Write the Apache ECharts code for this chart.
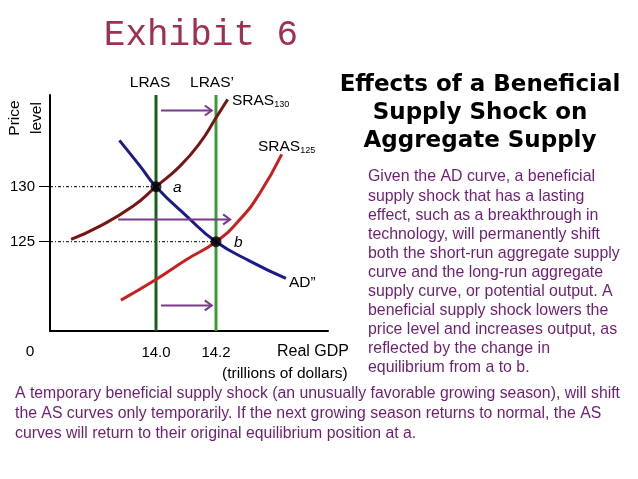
<!DOCTYPE html>
<html><head><meta charset="utf-8">
<script src="https://cdn.jsdelivr.net/npm/echarts@6/dist/echarts.min.js"></script>
<style>html,body{margin:0;padding:0;background:#fff}#c{width:638px;height:479px}</style>
</head><body><div id="c"></div>
<script>
// ---- data ----
const xTicks = [14.0, 14.2];
const yTicks = [125, 130];
const sras130 = [[13.717,125.21],[13.813,126.42],[13.924,128.24],[14.0,130],[14.08,131.87],[14.147,134.0],[14.2,136.27],[14.239,137.94]];
const sras125 = [[13.883,119.69],[14.0,121.57],[14.102,123.39],[14.2,125],[14.28,127.03],[14.347,129.45],[14.419,132.94]];
const adCurve = [[13.878,134.21],[13.947,131.87],[14.0,130],[14.102,127.33],[14.2,125],[14.313,123.24],[14.433,121.66]];
const lras = 14.0;
const lrasNew = 14.2;
const equilibria = [[14.0,130,'a'],[14.2,125,'b']];
const shiftArrows = [[14.017,14.186,136.93],[13.874,14.247,127.03],[14.017,14.186,119.21]];
const xMin = 13.6467, xMax = 14.5733, yMin = 116.88, yMax = 138.34;

const purple = '#6e1e72';
const font = 'Liberation Sans, Arial, sans-serif';
const lab = '15.5px ' + font;
const chart = echarts.init(document.getElementById('c'));

function vline(x, color, name) {
  return {type:'line', name, data:[[x,yMin],[x,yMax]], symbol:'none', lineStyle:{color, width:3}, z:3, silent:true};
}
function dash(pt) {
  return {type:'line', data:[[xMin,pt[1]],[pt[0],pt[1]]], symbol:'none', lineStyle:{color:'#000', width:1, type:[3,2,1,2]}, z:2, silent:true};
}

chart.setOption({
  animation:false,
  grid:{left:50, top:95, width:278, height:236},
  xAxis:{type:'value', min:xMin, max:xMax, splitLine:{show:false},
    axisLine:{lineStyle:{color:'#000', width:2}},
    axisTick:{show:false},
    axisLabel:{customValues:xTicks, formatter:v=>v.toFixed(1), color:'#000', fontSize:15, fontFamily:font, margin:14}},
  yAxis:{type:'value', min:yMin, max:yMax, splitLine:{show:false},
    axisLine:{lineStyle:{color:'#000', width:2}},
    axisTick:{customValues:yTicks, length:11, lineStyle:{color:'#000', width:1}},
    axisLabel:{customValues:yTicks, color:'#000', fontSize:15, fontFamily:font, margin:15}},
  series:[
    dash(equilibria[0]), dash(equilibria[1]),
    vline(lras, '#1d5e1d', 'LRAS'), vline(lrasNew, '#3c9a3c', "LRAS'"),
    {type:'line', data:sras130, smooth:true, symbol:'none', lineStyle:{color:'#7a1414', width:3}, z:4},
    {type:'line', data:sras125, smooth:true, symbol:'none', lineStyle:{color:'#c8201e', width:3}, z:4},
    {type:'line', data:adCurve, smooth:true, symbol:'none', lineStyle:{color:'#1a1a8a', width:3}, z:4},
    {type:'custom', data:shiftArrows, z:5, renderItem:(p,api)=>{
      const a = api.coord([api.value(0), api.value(2)]);
      const b = api.coord([api.value(1), api.value(2)]);
      const st = {stroke:'#7a3a8a', lineWidth:2, fill:'none'};
      return {type:'group', children:[
        {type:'line', shape:{x1:a[0],y1:a[1],x2:b[0],y2:b[1]}, style:st},
        {type:'polyline', shape:{points:[[b[0]-7,b[1]-5],[b[0],b[1]],[b[0]-7,b[1]+5]]}, style:st}
      ]};
    }},
    {type:'scatter', data:equilibria.map(e=>[e[0],e[1]]), symbolSize:11, itemStyle:{color:'#000'}, z:6}
  ],
  graphic:[
    {type:'text', style:{text:'Exhibit 6', x:201, y:35, align:'center', verticalAlign:'middle', font:'36px "Liberation Mono", "Courier New", monospace', fill:'#a03050'}},
    {type:'text', style:{text:'LRAS', x:150, y:83, align:'center', verticalAlign:'middle', font:lab, fill:'#000'}},
    {type:'text', style:{text:'LRAS\u2019', x:212, y:83, align:'center', verticalAlign:'middle', font:lab, fill:'#000'}},
    {type:'text', style:{text:'{m|SRAS}{s|130}', x:232, y:101, verticalAlign:'middle', rich:{m:{fontSize:15.5, fontFamily:font, fill:'#000'}, s:{fontSize:9, fontFamily:font, fill:'#000', padding:[8,0,0,0]}}}},
    {type:'text', style:{text:'{m|SRAS}{s|125}', x:258, y:147, verticalAlign:'middle', rich:{m:{fontSize:15.5, fontFamily:font, fill:'#000'}, s:{fontSize:9, fontFamily:font, fill:'#000', padding:[8,0,0,0]}}}},
    {type:'text', style:{text:'a', x:173, y:188, verticalAlign:'middle', font:'italic '+lab, fill:'#000'}},
    {type:'text', style:{text:'b', x:234, y:243, verticalAlign:'middle', font:'italic '+lab, fill:'#000'}},
    {type:'text', style:{text:'AD\u201d', x:289, y:283, verticalAlign:'middle', font:lab, fill:'#000'}},
    {type:'text', style:{text:'Real GDP', x:277, y:352, verticalAlign:'middle', font:'16px '+font, fill:'#000'}},
    {type:'text', style:{text:'(trillions of dollars)', x:222, y:374, verticalAlign:'middle', font:lab, fill:'#000'}},
    {type:'text', style:{text:'0', x:30, y:352, align:'center', verticalAlign:'middle', font:lab, fill:'#000'}},
    {type:'text', x:15, y:118, rotation:Math.PI/2, style:{text:'Price', x:0, y:0, align:'center', verticalAlign:'middle', font:lab, fill:'#000'}},
    {type:'text', x:37, y:118, rotation:Math.PI/2, style:{text:'level', x:0, y:0, align:'center', verticalAlign:'middle', font:lab, fill:'#000'}},
    {type:'text', style:{text:'Effects of a Beneficial\nSupply Shock on\nAggregate Supply', x:480, y:71, align:'center', verticalAlign:'top', lineHeight:28, font:'bold 23px "DejaVu Sans", sans-serif', fill:'#000'}},
    {type:'text', style:{text:'Given the AD curve, a beneficial\nsupply shock that has a lasting\neffect, such as a breakthrough in\ntechnology, will permanently shift\nboth the short-run aggregate supply\ncurve and the long-run aggregate\nsupply curve, or potential output. A\nbeneficial supply shock lowers the\nprice level and increases output, as\nreflected by the change in\nequilibrium from a to b.', x:368, y:167.5, verticalAlign:'top', lineHeight:19.1, font:'15.9px '+font, fill:purple}},
    {type:'text', style:{text:'A temporary beneficial supply shock (an unusually favorable growing season), will shift\nthe AS curves only temporarily. If the next growing season returns to normal, the AS\ncurves will return to their original equilibrium position at a.', x:15, y:384, verticalAlign:'top', lineHeight:20, font:'15.8px '+font, fill:purple}}
  ]
});
</script></body></html>
